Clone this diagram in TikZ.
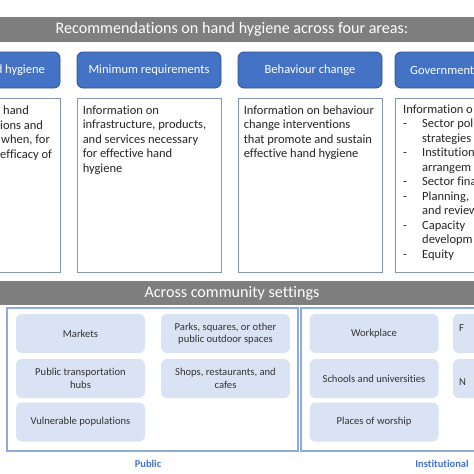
\documentclass[tikz,border=0pt]{standalone}
\usepackage{fontspec}
\setmainfont{Carlito}[Ligatures=NoCommon]
\usetikzlibrary{positioning}

\definecolor{bannergray}{HTML}{7F7F7F}
\definecolor{areablue}{HTML}{4472C4}
\definecolor{areaedge}{HTML}{2F528F}
\definecolor{infoedge}{HTML}{8497B0}
\definecolor{settingedge}{HTML}{8FAADC}
\definecolor{settingfill}{HTML}{DAE3F3}
\definecolor{settingtext}{HTML}{333333}

\begin{document}
\begin{tikzpicture}[
  x=1pt, y=-1pt,
  banner/.style={fill=bannergray, text=white, minimum width=484pt,
                 inner sep=0pt, font=\fontsize{16.1}{19}\selectfont},
  area/.style={draw=areaedge, fill=areablue, rounded corners=6pt, text=white,
               minimum width=144pt, minimum height=36pt, line width=0.8pt,
               font=\fontsize{12.5}{15}\selectfont},
  info/.style={draw=infoedge, fill=white, minimum width=144pt,
               minimum height=174pt, line width=0.9pt},
  infotext/.style={align=left, inner sep=0pt, text=black!85,
                   font=\fontsize{12.5}{14.5}\selectfont},
  group/.style={draw=settingedge, line width=1.2pt, minimum height=143pt},
  setting/.style={fill=settingfill, rounded corners=6pt, minimum width=129pt,
                  minimum height=39pt, align=center, text=settingtext,
                  font=\fontsize{10.6}{12.5}\selectfont},
  grouplabel/.style={text=areablue, font=\bfseries\fontsize{10.5}{12}\selectfont}
]
\useasboundingbox (0,0) rectangle (474,474);
\clip (0,0) rectangle (474,474);

% top banner
\node[banner, minimum height=25pt] (recs) at (232,29.5)
  {Recommendations on hand hygiene across four areas:};

% the four areas
\node[area] (hygiene) at (-12,70) {};
\node[area] (minreq)  at (149,70) {Minimum requirements};
\node[area] (behav)   at (310,70) {Behaviour change};
\node[area] (gov)     at (467,70) {};
\node[text=white, font=\fontsize{12.5}{15}\selectfont, anchor=east, inner sep=0pt]
  (hygienelbl) at (45,70) {d hygiene};
\node[text=white, font=\fontsize{12.5}{15}\selectfont, anchor=west, inner sep=0pt]
  (govlbl) at (410,70) {Government};

% information boxes
\node[info] (hygieneinfo) at (-12,185) {};
\node[info] (minreqinfo)  at (149,185) {};
\node[info] (behavinfo)   at (310,185) {};
\node[info] (govinfo)     at (467,185) {};

\node[infotext, anchor=north west] (hygienetext) at (0,106)
  {\hspace{3pt}hand\\ions and\\\hspace{1pt}when, for\\efficacy of};
\node[infotext, below right=8pt and 6pt of minreqinfo.north west] (minreqtext)
  {Information on\\infrastructure, products,\\and services necessary\\for effective hand\\hygiene};
\node[infotext, below right=8pt and 6pt of behavinfo.north west] (behavtext)
  {Information on behaviour\\change interventions\\that promote and sustain\\effective hand hygiene};
\node[infotext, anchor=north west] (govtext) at (403,103)
  {\begin{tabular}{@{}p{19pt}@{}l@{}}
   \multicolumn{2}{@{}l@{}}{Information o}\\
   - & Sector pol\\
     & strategies\\
   - & Institution\\
     & arrangem\\
   - & Sector fina\\
   - & Planning,\\
     & and review\\
   - & Capacity\\
     & developm\\
   - & Equity
   \end{tabular}};

% settings banner
\node[banner, minimum height=24pt] (across) at (232,293) {Across community settings};

% public settings
\node[group, minimum width=291pt] (public) at (152.5,379.5) {};
\node[setting] (markets)    at (80.5,333.5)  {Markets};
\node[setting] (transport)  at (80.5,378.5)  {Public transportation\\hubs};
\node[setting] (vulnerable) at (80.5,422)    {Vulnerable populations};
\node[setting] (parks)      at (225.5,333.5) {Parks, squares, or other\\public outdoor spaces};
\node[setting] (shops)      at (225.5,378.5) {Shops, restaurants, and\\cafes};
\node[grouplabel] (publiclbl) at (148,464) {Public};

% institutional settings
\node[group, minimum width=299pt] (institutional) at (450.5,379.5) {};
\node[setting] (workplace) at (374,333.5) {Workplace};
\node[setting] (schools)   at (374,378.5) {Schools and universities};
\node[setting] (worship)   at (374,422)   {Places of worship};
\node[setting] (instone)   at (517.5,333.5) {};
\node[setting] (insttwo)   at (517.5,378.5) {};
\node[text=settingtext, font=\fontsize{10.6}{12.5}\selectfont, anchor=west, inner sep=0pt]
  (instonelbl) at (459,328) {F};
\node[text=settingtext, font=\fontsize{10.6}{12.5}\selectfont, anchor=west, inner sep=0pt]
  (insttwolbl) at (459,382) {N};
\node[grouplabel] (institutionallbl) at (442,464) {Institutional};
\end{tikzpicture}
\end{document}
